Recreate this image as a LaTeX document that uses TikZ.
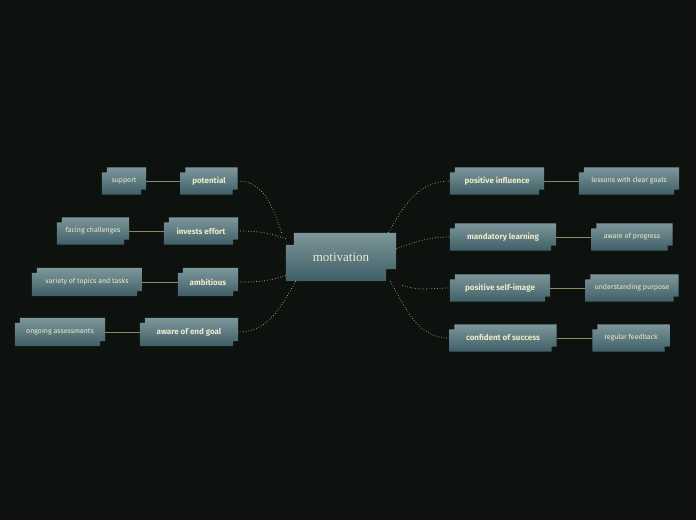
\documentclass[tikz,border=0pt]{standalone}
\usepackage{fontspec}
\setmainfont{Fira Sans}
\newfontfamily\ctrfont{Liberation Serif}
\pgfdeclarelayer{bglayer}
\pgfdeclarelayer{background}
\pgfsetlayers{bglayer,background,main}
\definecolor{bg}{HTML}{0D120F}
\definecolor{boxtop}{HTML}{7D979B}
\definecolor{boxbot}{HTML}{3F5E66}
\definecolor{txt}{HTML}{EDEBCB}
\definecolor{dotc}{HTML}{B8B89A}
\definecolor{linec}{HTML}{8A8A62}
\tikzset{
 bx/.style={inner sep=0pt, text=txt, font=\fontsize{7}{8}\selectfont},
 mainbx/.style={bx, font=\fontsize{8}{9}\selectfont\bfseries},
 dotline/.style={draw=dotc, dotted, line width=0.7pt},
 subline/.style={draw=linec, line width=0.9pt},
}
\newcommand{\mkbox}[6]{%
 \node[#6, minimum width=#4pt, minimum height=#5pt] (#1) at (#2pt,-#3pt) {};
 \begin{pgfonlayer}{background}
 \shade[top color=boxtop, bottom color=boxbot]
  ([xshift=5pt]#1.north west) -- (#1.north east) -- ([yshift=5pt]#1.south east) -- ([xshift=-5pt,yshift=5pt]#1.south east) -- ([xshift=-5pt]#1.south east) -- (#1.south west) -- ([yshift=-5pt]#1.north west) -- ([xshift=5pt,yshift=-5pt]#1.north west) -- cycle;
 \end{pgfonlayer}}
\begin{document}
\begin{tikzpicture}
\begin{pgfonlayer}{bglayer}
\fill[bg] (0,0) rectangle (696pt,-520pt);
\end{pgfonlayer}
\useasboundingbox (0,0) rectangle (696pt,-520pt);
% center
\node[minimum width=110pt, minimum height=48pt, inner sep=0pt] (mot) at (341pt,-257pt) {};
\begin{pgfonlayer}{background}
\shade[top color=boxtop, bottom color=boxbot]
 ([xshift=8pt]mot.north west) -- (mot.north east) -- ([yshift=12pt]mot.south east) -- ([xshift=-10pt,yshift=12pt]mot.south east) -- ([xshift=-10pt]mot.south east) -- (mot.south west) -- ([yshift=-12pt]mot.north west) -- ([xshift=8pt,yshift=-12pt]mot.north west) -- cycle;
\end{pgfonlayer}
\node[text=txt, font=\ctrfont\fontsize{13}{14}\selectfont] at (mot) {motivation};
% left
\mkbox{pot}{209}{181}{57}{27}{mainbx}
\mkbox{sup}{124}{181}{44}{27}{bx}
\mkbox{inv}{201}{231}{74}{27}{mainbx}
\mkbox{fac}{93}{231}{72}{27}{bx}
\mkbox{amb}{208}{282}{60}{28}{mainbx}
\mkbox{var}{87}{282}{110}{28}{bx}
\mkbox{awa}{189}{332}{98}{28}{mainbx}
\mkbox{ong}{60}{332}{90}{28}{bx}
% right
\mkbox{pin}{497}{181}{94}{27}{mainbx}
\mkbox{les}{629}{181}{100}{27}{bx}
\mkbox{man}{503}{237}{106}{27}{mainbx}
\mkbox{apr}{632}{237}{81}{27}{bx}
\mkbox{psi}{500}{288}{100}{27}{mainbx}
\mkbox{und}{632}{288}{93}{27}{bx}
\mkbox{con}{503}{338}{107}{27}{mainbx}
\mkbox{reg}{631}{338}{77}{27}{bx}
% labels
\foreach \n/\t in {pot/potential, inv/invests effort, amb/ambitious, awa/aware of end goal, pin/positive influence, man/mandatory learning, psi/positive self-image, con/confident of success}
 \node[mainbx] at (\n) {\t};
\foreach \n/\t in {sup/support, fac/facing challenges, var/variety of topics and tasks, ong/ongoing assessments, les/lessons with clear goals, apr/aware of progress, und/understanding purpose, reg/regular feedback}
 \node[bx] at (\n) {\t};
% dotted center connections
\draw[dotline] ([xshift=-4pt]mot.north west) to[out=110,in=0] (pot.east);
\draw[dotline] ([yshift=-6pt]mot.north west) to[out=160,in=0] (inv.east);
\draw[dotline] ([yshift=6pt]mot.south west) to[out=200,in=0] (amb.east);
\draw[dotline] ([xshift=10pt]mot.south west) to[out=240,in=0] (awa.east);
\draw[dotline] ([xshift=-8pt]mot.north east) to[out=60,in=180] (pin.west);
\draw[dotline] ([yshift=-16pt]mot.north east) to[out=20,in=180] (man.west);
\draw[dotline] ([xshift=6pt,yshift=-4pt]mot.south east) to[out=-20,in=180] (psi.west);
\draw[dotline] ([xshift=-6pt]mot.south east) to[out=-60,in=180] (con.west);
% sub connections
\draw[subline] (pot.west) -- (sup.east);
\draw[subline] (inv.west) -- (fac.east);
\draw[subline] (amb.west) -- (var.east);
\draw[subline] (awa.west) -- (ong.east);
\draw[subline] (pin.east) -- (les.west);
\draw[subline] (man.east) -- (apr.west);
\draw[subline] (psi.east) -- (und.west);
\draw[subline] (con.east) -- (reg.west);
\end{tikzpicture}
\end{document}
